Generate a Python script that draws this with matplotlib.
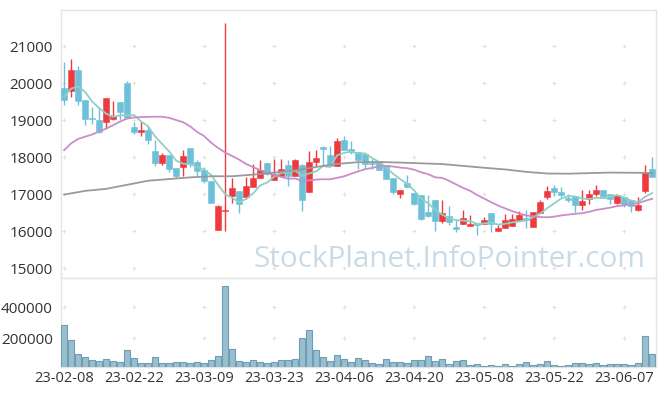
import matplotlib
matplotlib.use("Agg")
import matplotlib.pyplot as plt
import numpy as np
import pandas as pd

# ---- data ----
tick_labels = ['23-02-08', '23-02-22', '23-03-09', '23-03-23', '23-04-06',
               '23-04-20', '23-05-08', '23-05-22', '23-06-07']

opens = [19870, 19790, 20350, 19540, 19060, 19000, 18960, 19040, 19480, 19990,
         18810, 18680, 18730, 18160, 17840, 18050, 17710, 17730, 18240, 17860,
         17640, 17360, 16020, 16550, 16960, 17070, 16920, 17190, 17435, 17830,
         17390, 17490, 17780, 17490, 17780, 17060, 17870, 18260, 18050, 17760,
         18455, 18210, 18140, 18080, 17850, 17890, 17780, 17420, 17000, 17300,
         17030, 16970, 16510, 16830, 16260, 16400, 16100, 16180, 16140, 16230,
         16200, 16490, 15990, 16080, 16140, 16290, 16360, 16110, 16490, 16920,
         17170, 17060, 16890, 16940, 16710, 16860, 16990, 17100, 17010, 16760,
         16920, 16830, 16560, 17080, 17690]
highs = [20560, 20650, 20460, 19540, 19360, 19360, 19600, 19510, 19480, 20050,
         18950, 18950, 18840, 18470, 18110, 18050, 17710, 18190, 18240, 17910,
         17730, 17360, 16690, 21630, 17445, 17070, 17460, 17820, 17930, 17830,
         17960, 17960, 17930, 17960, 17800, 18160, 18200, 18300, 18300, 18510,
         18570, 18430, 18140, 18080, 17960, 17890, 17790, 17420, 17100, 17510,
         17030, 16970, 16970, 16830, 16830, 16670, 16290, 16580, 16440, 16230,
         16380, 16490, 16150, 16470, 16470, 16540, 16560, 16510, 16850, 17220,
         17240, 17190, 17010, 16940, 17120, 17120, 17240, 17100, 17010, 16990,
         16920, 16850, 16920, 17780, 18000]
lows = [19420, 19620, 19420, 18860, 18880, 18660, 18770, 19000, 19000, 19050,
        18610, 18560, 18350, 17760, 17780, 17600, 17440, 17500, 17720, 17480,
        17300, 16760, 16020, 16000, 16760, 16500, 16860, 17190, 17435, 17520,
        17380, 17460, 17210, 17480, 16530, 17050, 17760, 17760, 17760, 17760,
        18180, 18090, 17690, 17690, 17690, 17640, 17400, 17010, 16880, 17180,
        16700, 16300, 16380, 16000, 16230, 16160, 15970, 16180, 16130, 15880,
        16180, 15970, 15990, 16080, 16130, 16280, 16090, 16100, 16480, 16860,
        16940, 16920, 16790, 16510, 16580, 16740, 16940, 16900, 16720, 16740,
        16650, 16520, 16550, 17030, 17450]
closes = [19550, 20350, 19520, 19030, 19040, 18680, 19590, 19110, 19220, 19060,
          18680, 18730, 18460, 17840, 18050, 17680, 17490, 18020, 17820, 17630,
          17340, 16760, 16670, 16580, 17150, 16720, 17210, 17430, 17660, 17530,
          17535, 17690, 17490, 17910, 16840, 17855, 17975, 18210, 17760, 18435,
          18185, 18140, 17920, 17815, 17800, 17650, 17410, 17060, 17100, 17190,
          16720, 16320, 16410, 16260, 16500, 16240, 16060, 16340, 16180, 16150,
          16290, 16180, 16070, 16290, 16330, 16420, 16310, 16510, 16780, 17070,
          17060, 16970, 16850, 16710, 16800, 17010, 17100, 16900, 16860, 16970,
          16720, 16670, 16700, 17570, 17460]
volumes = [286000, 189000, 97000, 77000, 60000, 54000, 64000, 54000, 47000, 125000,
           71000, 39000, 39000, 77000, 39000, 39000, 47000, 47000, 39000, 47000,
           39000, 60000, 84000, 537000, 129000, 54000, 47000, 60000, 47000, 39000,
           47000, 60000, 60000, 64000, 200000, 252000, 125000, 77000, 54000, 92000,
           64000, 47000, 71000, 60000, 39000, 32000, 64000, 47000, 47000, 39000,
           60000, 60000, 84000, 54000, 64000, 32000, 54000, 60000, 26000, 32000,
           19000, 26000, 19000, 32000, 19000, 32000, 47000, 26000, 32000, 54000,
           26000, 19000, 26000, 39000, 39000, 32000, 39000, 26000, 32000, 32000,
           32000, 26000, 39000, 213000, 97000]

# moving-average values at the start of the window (they depend on earlier days)
ma5_head = [19630, 19850, 19910, 19760]
ma20_head = [18185, 18370, 18490, 18550, 18610, 18690, 18770, 18860, 18960, 19040,
             19070, 19080, 19085, 19090, 19090, 19060, 19000, 18940, 18830]
# long moving average (grey), read at every third day
ma120_idx = [0, 3, 6, 9, 12, 15, 18, 21, 24, 27, 30, 33, 36, 39, 42, 45, 48, 51,
             54, 57, 60, 63, 66, 69, 72, 75, 78, 81, 84]
ma120_val = [16985, 17085, 17140, 17250, 17360, 17405, 17450, 17480, 17481, 17525,
             17580, 17640, 17730, 17815, 17860, 17865, 17850, 17830, 17810, 17760,
             17710, 17665, 17600, 17555, 17550, 17565, 17580, 17575, 17570]

price_ticks = [15000, 16000, 17000, 18000, 19000, 20000, 21000]
vol_ticks = [200000, 400000]

# ---- derived ----
n = len(closes)
x = np.arange(n)
s = pd.Series(closes, dtype=float)
ma5 = s.rolling(5).mean().to_numpy()
ma5[:len(ma5_head)] = ma5_head
ma20 = s.rolling(20).mean().to_numpy()
ma20[:len(ma20_head)] = ma20_head

UP = '#ee3a3f'
DOWN = '#6cc0d7'
TXT = '#333333'
FONT = ['Open Sans', 'DejaVu Sans']

plt.rcParams['font.family'] = FONT

fig = plt.figure(figsize=(6.65, 3.96), dpi=100)
W, H = 665.0, 396.0
left, right = 61 / W, 656 / W
ax = fig.add_axes([left, 1 - 278 / H, right - left, 268 / H])
axv = fig.add_axes([left, 1 - 367 / H, right - left, 89 / H], sharex=ax)

# watermark
ax.text(645 / W, 1 - 267 / H, 'StockPlanet.InfoPointer.com', transform=fig.transFigure,
        ha='right', va='baseline', fontsize=21.4, color='#c9dbe6', zorder=0,
        family=FONT)

# grid crosses
xt = np.arange(0, n, 10)
gx, gy = np.meshgrid(xt, price_ticks)
ax.scatter(gx.ravel(), gy.ravel(), marker='+', s=12, color='#e0e0e0', linewidths=0.7, zorder=1)
gx2, gy2 = np.meshgrid(xt, vol_ticks)
axv.scatter(gx2.ravel(), gy2.ravel(), marker='+', s=12, color='#e0e0e0', linewidths=0.7, zorder=1)

# candles
o = np.array(opens, float); c = np.array(closes, float)
h = np.array(highs, float); l = np.array(lows, float)
up = c >= o
cols = np.where(up, UP, DOWN)
ax.vlines(x, l, h, colors=cols, linewidth=1.0, zorder=3)
body_h = np.maximum(np.abs(c - o), 25)
ax.bar(x, body_h, bottom=np.minimum(o, c), width=0.78, color=cols, edgecolor=cols,
       linewidth=0.4, zorder=4)

# moving averages
ax.plot(x, ma5, color='#8fd0c5', lw=1.3, zorder=5)
ax.plot(x, ma20, color='#cc8cc9', lw=1.3, zorder=5)
ax.plot(ma120_idx, ma120_val, color='#9a9a9a', lw=1.3, zorder=5)

# volume
axv.bar(x, volumes, width=0.9, color='#98bfd0', edgecolor='#6f9db4', linewidth=0.8, zorder=3)

ax.set_xlim(-0.45, 84.55)
ax.set_ylim(14730, 21975)
axv.set_ylim(15000, 589000)

ax.set_yticks(price_ticks)
ax.set_yticklabels([str(v) for v in price_ticks])
axv.set_yticks(vol_ticks)
axv.set_yticklabels([str(v) for v in vol_ticks])
axv.set_xticks(xt)
axv.set_xticklabels(tick_labels)
ax.tick_params(axis='x', labelbottom=False, length=0)

for a in (ax, axv):
    a.tick_params(axis='y', length=0, pad=6, labelsize=11, labelcolor=TXT)
    for sp in a.spines.values():
        sp.set_color('#e4e4e4')
        sp.set_linewidth(1.0)
axv.tick_params(axis='x', length=0, pad=3, labelsize=10.5, labelcolor=TXT)

fig.savefig('out.png', dpi=100, facecolor='white')
